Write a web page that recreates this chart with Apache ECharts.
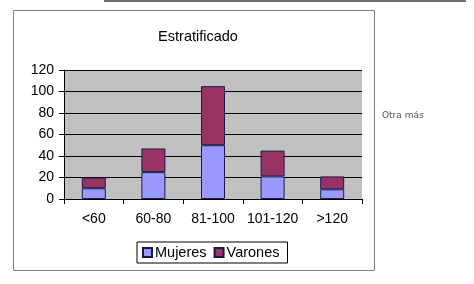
<!DOCTYPE html>
<html>
<head>
  <meta charset="utf-8">
  <style>
  body { margin: 0; background: #fff; }
  #chart { width: 474px; height: 284px; }
  </style>
</head>
<body>
  <div id="chart"></div>
  <script src="https://cdn.jsdelivr.net/npm/echarts@6/dist/echarts.min.js"></script>
  <script>
  const categories = ['<60', '60-80', '81-100', '101-120', '>120'];
  const mujeres = [10, 25, 50, 21, 9];
  const varones = [10, 22, 55, 24, 12];
  const yTicks = { min: 0, max: 120, interval: 20 };

  const font = 'Liberation Sans, Arial, sans-serif';

  let option = {
    animation: false,
    title: {
      text: 'Estratificado',
      left: 193,
      top: 24,
      textAlign: 'center',
      textStyle: { fontFamily: font, fontSize: 14.5, fontWeight: 'normal', color: '#000' }
    },
    legend: {
      left: 137,
      top: 242,
      padding: [3, 8, 3, 5],
      itemGap: 7,
      itemWidth: 9,
      itemHeight: 9,
      borderColor: '#000',
      borderWidth: 1,
      icon: 'rect',
      textStyle: { fontFamily: font, fontSize: 14.5, color: '#000', padding: [0, 0, 0, -2] },
      data: ['Mujeres', 'Varones']
    },
    grid: {
      left: 64,
      top: 70,
      width: 298,
      height: 129,
      show: true,
      backgroundColor: '#c0c0c0',
      borderWidth: 0
    },
    xAxis: {
      type: 'category',
      data: categories,
      axisLine: { lineStyle: { color: '#000' } },
      axisTick: { show: true, length: 5, lineStyle: { color: '#000' } },
      axisLabel: { interval: 0, fontFamily: font, fontSize: 14, color: '#000', margin: 13 }
    },
    yAxis: {
      type: 'value',
      min: yTicks.min,
      max: yTicks.max,
      interval: yTicks.interval,
      axisLine: { show: true, lineStyle: { color: '#000' } },
      axisTick: { show: true, length: 5, lineStyle: { color: '#000' } },
      axisLabel: { fontFamily: font, fontSize: 14, color: '#000', margin: 10 },
      splitLine: { lineStyle: { color: '#000', width: 1 } }
    },
    series: [{
      name: 'Mujeres',
      type: 'bar',
      stack: 'total',
      barWidth: 24,
      itemStyle: { color: '#9999ff', borderColor: '#1a1a4a', borderWidth: 1 },
      data: mujeres
    }, {
      name: 'Varones',
      type: 'bar',
      stack: 'total',
      barWidth: 24,
      itemStyle: { color: '#993366', borderColor: '#1a1a4a', borderWidth: 1 },
      data: varones
    }],
    graphic: [{
      type: 'rect',
      shape: { x: 13.5, y: 10.5, width: 361, height: 260 },
      style: { fill: 'none', stroke: '#808080', lineWidth: 1 },
      z: -1
    }, {
      type: 'rect',
      shape: { x: 104, y: 0, width: 362, height: 2 },
      style: { fill: '#6e6e6e' }
    }, {
      type: 'text',
      left: 382,
      top: 111,
      style: { text: 'Otra más', font: '9px DejaVu Sans, Verdana, sans-serif', fill: '#555' }
    }]
  };

  let myChart = echarts.init(document.getElementById('chart'));
  myChart.setOption(option);
  </script>
</body>
</html>
